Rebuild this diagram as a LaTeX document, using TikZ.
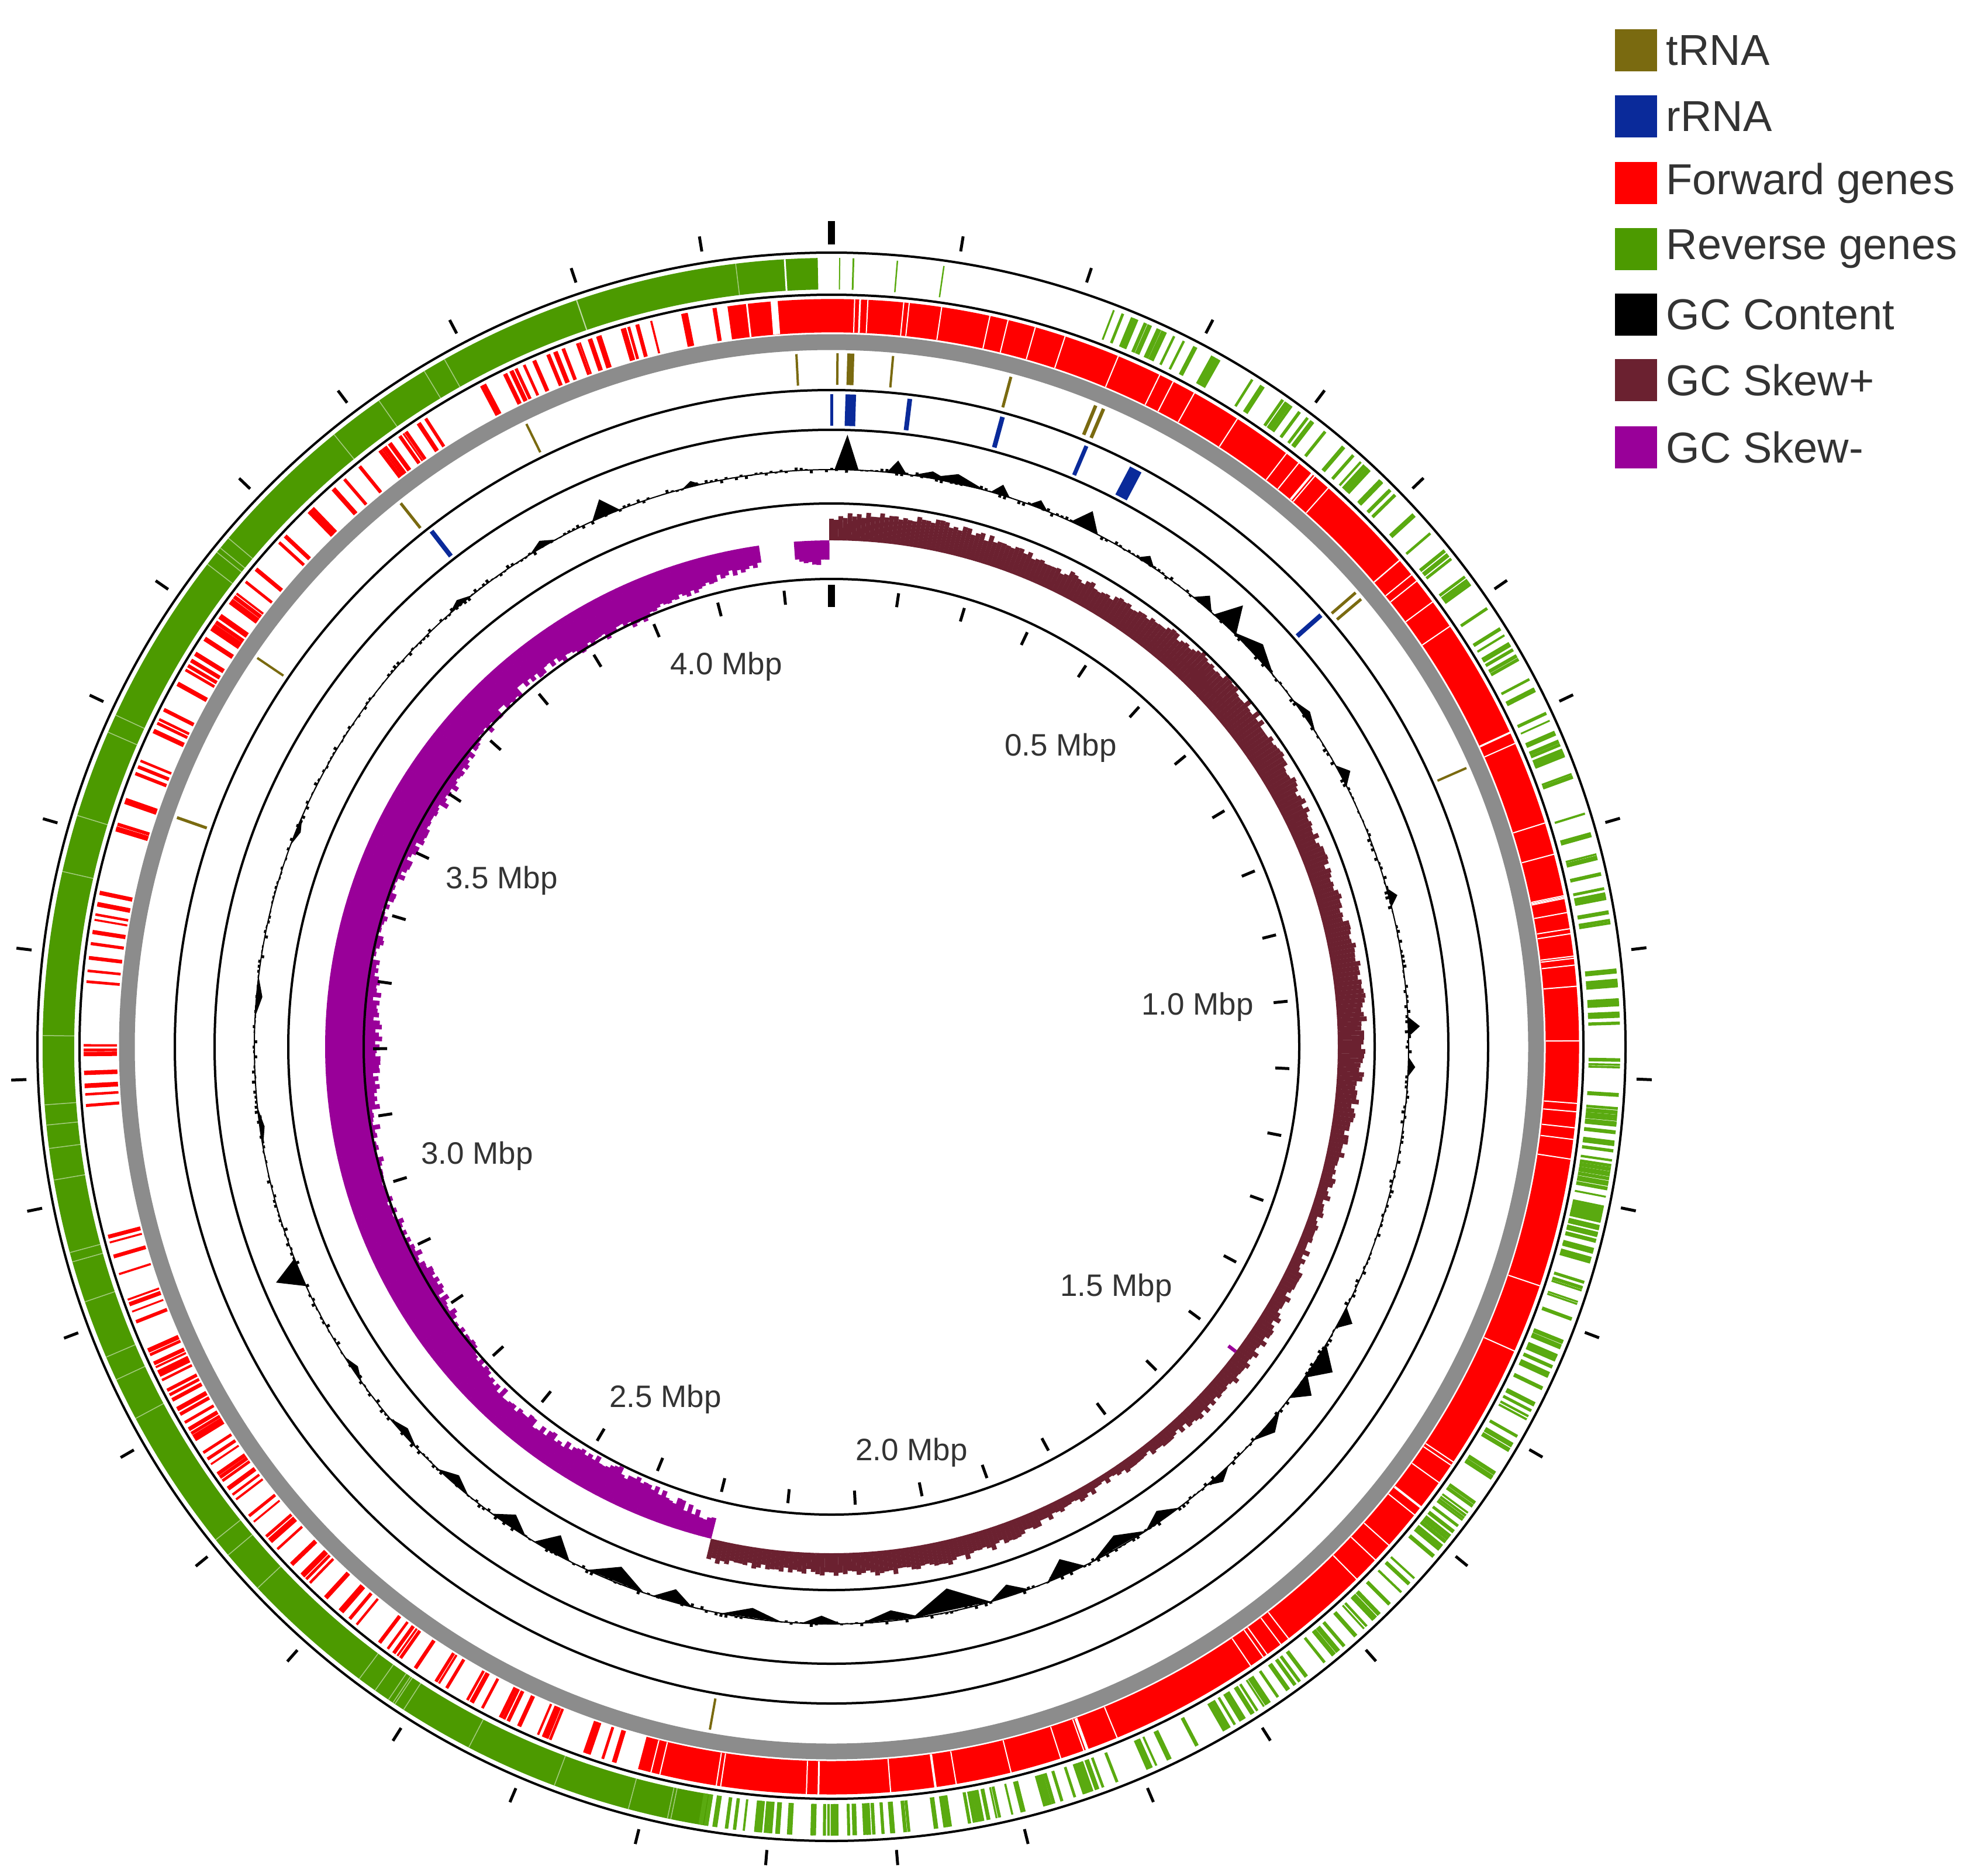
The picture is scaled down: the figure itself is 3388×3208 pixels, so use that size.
\documentclass[tikz,border=0pt]{standalone}
\usepackage{fontspec}
\setmainfont{Liberation Sans}
\definecolor{gcol}{HTML}{4C9A00}
\definecolor{gcl}{HTML}{5AAA10}
\definecolor{rcol}{HTML}{FF0000}
\definecolor{tcol}{HTML}{7A6A10}
\definecolor{bcol}{HTML}{0A2A9A}
\definecolor{skp}{HTML}{6B2130}
\definecolor{skm}{HTML}{990099}
\definecolor{txt}{HTML}{333333}
\newcommand\gband[5]{\draw[#1, line width=#3] ({90-(#4)}:#2) arc[start angle={90-(#4)}, end angle={90-(#5)}, radius=#2];}
\newcommand\gradial[5]{\draw[#1, line width=#2] ({90-(#3)}:#4) -- ({90-(#3)}:#5);}
\newcommand\gspike[3]{\fill ({90-(#1)+(#3)}:987pt) -- ({90-(#1)}:{987pt+(#2)*1pt}) -- ({90-(#1)-(#3)}:987pt) -- cycle;}
\begin{document}
\begin{tikzpicture}[x=1pt,y=1pt, ring/.style={draw=black, line width=4pt}, lab/.style={text=txt, font=\fontsize{53}{60}\selectfont}, leg/.style={text=txt, font=\fontsize{74}{80}\selectfont, anchor=west}]
\useasboundingbox (0,0) rectangle (3388,-3208);
\pgfmathsetseed{42}
\begin{scope}[shift={(1422,-1790)}]
% ---- reverse genes (green)
\gband{gcol}{1322pt}{54pt}{189}{359}
\foreach \i in {1,...,40}{\pgfmathsetmacro\t{189+170*rnd}\gradial{white,opacity=0.5}{1.5pt}{\t}{1295pt}{1349pt}}
\gradial{white}{3pt}{356.6}{1295pt}{1349pt}
\foreach \t/\w in {0.6/2,1.6/3,4.8/2.5,8.2/2.5}{\gradial{gcl}{\w pt}{\t}{1295pt}{1349pt}}
\foreach \a/\b/\n in {20/60/55,60/100/65,100/150/95,150/160/8,160/190/60}{
  \foreach \i in {1,...,\n}{\pgfmathsetmacro\t{\a+(\b-\a)*rnd}\pgfmathsetmacro\w{3+6*rnd}\gradial{gcl}{\w pt}{\t}{1295pt}{1349pt}}}
% ---- forward genes (red)
\gband{rcol}{1250pt}{57pt}{-8}{195}
\foreach \t/\w in {355.6/12,2.2/3,-6.5/3,40/4,128/4,160/5,172/4,181/3}{\gradial{white}{\w pt}{\t}{1222pt}{1279pt}}
\foreach \i in {1,...,70}{\pgfmathsetmacro\t{195*rnd}\gradial{white}{2pt}{\t}{1222pt}{1279pt}}
\foreach \a/\b/\n in {196/256/85,265/300/35,300/345/65,345/351/5}{
  \foreach \i in {1,...,\n}{\pgfmathsetmacro\t{\a+(\b-\a)*rnd}\pgfmathsetmacro\w{3+5*rnd}\gradial{rcol}{\w pt}{\t}{1222pt}{1279pt}}}
% ---- gray ring
\draw[gray!90, line width=27pt] (0,0) circle[radius=1205pt];
% ---- tRNA
\foreach \t/\w in {357.1/4,0.5/4,1.6/12,5.1/4,15/5,22.4/6,23.1/6,333.9/4,321.6/5,49.1/5,49.8/5,66.3/4,304.1/4,289.3/5,190.1/4}{\gradial{tcol}{\w pt}{\t}{1132pt}{1186pt}}
% ---- rRNA
\foreach \t/\w in {0/5,1.7/18,6.9/8,15.2/8,23/7,27.8/22,322.2/8,48.6/8}{\gradial{bcol}{\w pt}{\t}{1062pt}{1116pt}}
% ---- GC content
\draw[black, line width=2pt] (0,0) circle[radius=987pt];
\foreach \t in {0,0.5,...,359.5}{\pgfmathsetmacro\rr{987+(rnd-0.5)*12}\gradial{black}{5pt}{\t}{987pt}{\rr pt}}
\foreach \a/\h/\w in {1.5/60/1.2,6.5/22/1,10/12/2,12.5/16/3,17/18/1,21/14/1,26/32/1.5,33/14/1,40/20/1.2,43/45/1.5,47/22/3,55/12/2,62/18/1.2,75/15/1,88/20/1,92/12/1,118/22/1.2,123/35/2,126/28/1.5,131/18/2,
138/14/1.5,145/-18/2,150/-22/3,156/-28/2,162/-20/2,168/-40/4,174/-18/3,181/-14/2,188/-18/3,196/-22/2,202/-28/3,209/-32/2,214/-22/2,221/-16/2,228/-12/2,236/-10/1.5,247/45/1.5,262/-8/2,275/-10/2,292/-8/1.5,320/10/1.5,330/12/1.5,337/30/1.5,346/10/1}{\gspike{\a}{\h}{\w}}
% ---- GC skew
\foreach \t in {0,0.5,...,193.5}{\pgfmathsetmacro\rr{866+30+14*sin(2*\t)+8*sin(9*\t+20)+12*rnd}\gradial{skp}{8pt}{\t}{866pt}{\rr pt}}
\foreach \t in {194,194.5,...,351.5}{\pgfmathsetmacro\rr{866-28-45*sin((\t-194)/166*180)-10*sin(11*\t)-16*rnd}\gradial{skm}{8pt}{\t}{866pt}{\rr pt}}
\foreach \t in {356,356.5,...,359.5}{\pgfmathsetmacro\rr{866-30-12*rnd}\gradial{skm}{8pt}{\t}{866pt}{\rr pt}}
\gradial{skm}{6pt}{127}{866pt}{850pt}
% ---- rings
\foreach \r in {1358,1286,1123,1055,929,800}{\draw[ring] (0,0) circle[radius=\r pt];}
% ---- ticks
\foreach \t in {9.23,18.46,...,355}{\gradial{black}{5pt}{\t}{1378pt}{1404pt}}
\gradial{black}{12pt}{0}{1372pt}{1412pt}
\foreach \t in {8.43,16.86,...,355}{\gradial{black}{5pt}{\t}{760pt}{784pt}}
\gradial{black}{12pt}{0}{752pt}{790pt}
\end{scope}
% ---- labels
\node[lab] (l05) at (1814,-1279) {0.5 Mbp};
\node[lab] (l10) at (2048,-1722) {1.0 Mbp};
\node[lab] (l15) at (1909,-2203) {1.5 Mbp};
\node[lab] (l20) at (1559,-2484) {2.0 Mbp};
\node[lab] (l25) at (1138,-2393) {2.5 Mbp};
\node[lab] (l30) at (816,-1977) {3.0 Mbp};
\node[lab] (l35) at (858,-1506) {3.5 Mbp};
\node[lab] (l40) at (1242,-1140) {4.0 Mbp};
% ---- legend
\foreach \y/\c/\s [count=\k] in {86/tcol/tRNA,199/bcol/rRNA,313/rcol/Forward genes,426/gcol/Reverse genes,538/black/GC Content,650/skp/GC Skew+,765/skm/GC Skew-}{
  \fill[\c] (2762,-\y-36) rectangle (2834,\y*-1+36);
  \node[leg] (leg\k) at (2846,-\y) {\s};}
\end{tikzpicture}
\end{document}
